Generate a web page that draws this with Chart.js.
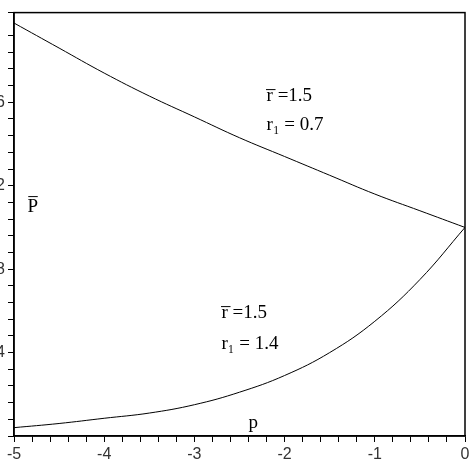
<!DOCTYPE html>
<html>
<head>
<script src="https://cdn.jsdelivr.net/npm/chart.js@4"></script>
<style>
  body { margin: 0; background: #fff; }
  #wrap { width: 474px; height: 474px; overflow: hidden; position: relative; }
  #box { position: absolute; left: -16px; top: 0; width: 490px; height: 474px; }
</style>
</head>
<body>
<div id="wrap"><div id="box"><canvas id="c"></canvas></div></div>
<script>
// values
const xs = [-5, -4.5, -4, -3.5, -3, -2.5, -2, -1.5, -1, -0.5, 0];
const upper = [1.98, 1.86, 1.74, 1.63, 1.53, 1.43, 1.34, 1.25, 1.16, 1.08, 1.0];
const lower = [0.04, 0.06, 0.085, 0.11, 0.15, 0.21, 0.29, 0.40, 0.55, 0.75, 1.0];
const notes = [
  { x: -2.2, y: 1.63, text: 'r\u0305 =1.5' },
  { x: -2.2, y: 1.49, text: 'r\u2081 = 0.7' },
  { x: -2.7, y: 0.59, text: 'r\u0305 =1.5' },
  { x: -2.7, y: 0.44, text: 'r\u2081 = 1.4' },
  { x: -4.85, y: 1.1, text: 'P\u0305' },
  { x: -2.4, y: 0.06, text: 'p' }
];

const pairs = v => xs.map((x, i) => ({ x: x, y: v[i] }));

const textPlugin = {
  id: 'notes',
  afterDraw(chart) {
    const ctx = chart.ctx, a = chart.chartArea;
    ctx.save();
    ctx.strokeStyle = '#000';
    ctx.lineWidth = 1.5;
    ctx.strokeRect(a.left, a.top, a.right - a.left, a.bottom - a.top);
    ctx.fillStyle = '#000';
    ctx.font = '19px "Liberation Serif"';
    ctx.textBaseline = 'middle';
    notes.forEach(n => {
      ctx.fillText(n.text, chart.scales.x.getPixelForValue(n.x), chart.scales.y.getPixelForValue(n.y));
    });
    ctx.restore();
  }
};

new Chart(document.getElementById('c'), {
  type: 'scatter',
  data: {
    datasets: [
      { data: pairs(upper), showLine: true, borderColor: '#000', borderWidth: 1, pointRadius: 0, tension: 0.4 },
      { data: pairs(lower), showLine: true, borderColor: '#000', borderWidth: 1, pointRadius: 0, tension: 0.4 }
    ]
  },
  options: {
    responsive: true,
    maintainAspectRatio: false,
    animation: false,
    layout: { padding: { top: 5, right: 9, left: 0, bottom: 0 } },
    plugins: { legend: { display: false }, tooltip: { enabled: false } },
    scales: {
      x: {
        min: -5, max: 0,
        afterFit: s => { s.height = 38; },
        grid: { drawOnChartArea: false, color: '#000', tickLength: 6 },
        border: { color: '#000', width: 1.5 },
        ticks: {
          stepSize: 0.2, autoSkip: false, maxRotation: 0, color: '#333',
          font: { family: 'Arial', size: 16 },
          callback: v => Math.abs(v - Math.round(v)) < 1e-6 ? String(Math.round(v)) : ''
        }
      },
      y: {
        min: 0, max: 2.03,
        afterFit: s => { s.width = 30; },
        grid: { drawOnChartArea: false, color: '#000', tickLength: 6 },
        border: { color: '#000', width: 1.5 },
        ticks: {
          stepSize: 0.08, autoSkip: false, color: '#333',
          font: { family: 'Arial', size: 16 },
          callback: v => { const k = Math.round(v / 0.08); return (k > 0 && k < 25 && k % 5 === 0) ? (k * 0.08).toFixed(1) : ''; }
        }
      }
    }
  },
  plugins: [textPlugin]
});
</script>
</body>
</html>
